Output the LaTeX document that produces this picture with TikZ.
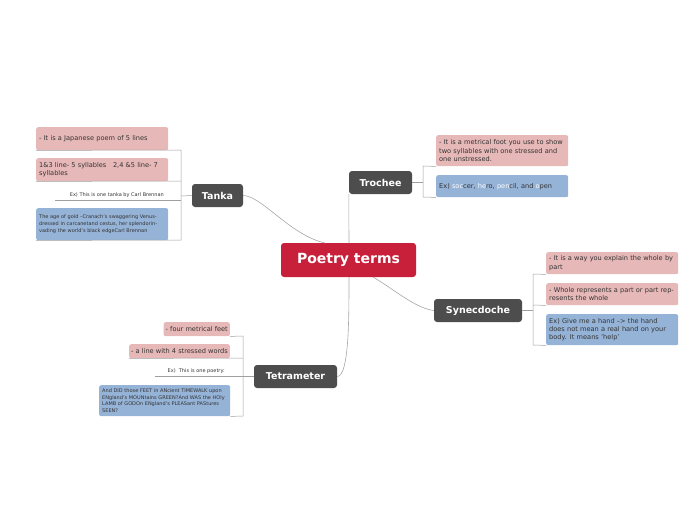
\documentclass[tikz,border=0pt]{standalone}
\usepackage{fontspec}
\setmainfont{DejaVu Sans}
\begin{document}
\begin{tikzpicture}[x=1pt,y=-1pt,
  pinkc/.style={fill=pinkf,rounded corners=2pt,inner sep=3pt,align=left,font=\fontsize{6.6}{8.2}\selectfont,text=black!80,anchor=north west},
  bluec/.style={fill=bluef,rounded corners=2pt,inner sep=3pt,align=left,font=\fontsize{6.6}{8.2}\selectfont,text=black!80,anchor=north west},
  topic/.style={fill=topicf,rounded corners=3pt,text=white,font=\bfseries\fontsize{9.5}{11}\selectfont,inner sep=0pt},
  lnk/.style={draw=gray!70,line width=0.6pt},
  brk/.style={draw=gray!75,line width=0.5pt},
  plain/.style={font=\fontsize{5}{6}\selectfont,inner sep=1pt,text=black!80}]
\definecolor{pinkf}{HTML}{E6B8B7}
\definecolor{bluef}{HTML}{95B3D7}
\definecolor{topicf}{HTML}{4D4D4D}
\definecolor{redf}{HTML}{C8203A}
\useasboundingbox (0,0) rectangle (697,520);
% central
\node[fill=redf,rounded corners=3pt,text=white,font=\bfseries\fontsize{14}{16}\selectfont,minimum width=135,minimum height=34] (c) at (348.5,260) {Poetry terms};
\node[topic,minimum width=51,minimum height=23] (tk) at (217.5,195.5) {Tanka};
\node[topic,minimum width=63,minimum height=23] (tr) at (380.5,182.5) {Trochee};
\node[topic,minimum width=88,minimum height=23] (sy) at (478,310.5) {Synecdoche};
\node[topic,minimum width=83,minimum height=23] (te) at (295.5,376.5) {Tetrameter};
% main links
\draw[lnk] (tk.east) .. controls (262,196) and (290,235) .. (325,243);
\draw[lnk] (tr.south west) ++(0,0) coordinate (trs) -- (349,243);
\draw[lnk] (373,277) .. controls (395,290) and (415,308) .. (sy.west);
\draw[lnk] (te.east) .. controls (349,376) and (349,320) .. (349,277);
% Tanka children
\node[pinkc,text width=126,minimum height=23] (t1) at (36,127) {- It is a Japanese poem of 5 lines};
\node[pinkc,text width=126,minimum height=23] (t2) at (36,158) {1\&3 line- 5 syllables\ \ \ 2,4 \&5 line- 7 syllables};
\node[plain,anchor=south east] (t3) at (165,199) {Ex) This is one tanka by Carl Brennan};
\node[bluec,text width=126,minimum height=32,font=\fontsize{5}{6.6}\selectfont] (t4) at (36,208) {The age of gold --Cranach's swaggering Venusdressed in carcanetand cestus, her splendorinvading the world's black edgeCarl Brennan};
\coordinate (tb) at (181,196);
\draw[brk] (t1.south west) -- (181,150) -- (181,240) -- (t4.south west);
\draw[brk] (t2.south west) -- (181,181);
\draw[brk] (55,200) -- (181,200);
\draw[brk] (tb) -- (tk.west);
% Trochee children
\node[pinkc,text width=126,minimum height=31] (r1) at (436,135) {- It is a metrical foot you use to show two syllables with one stressed and one unstressed.};
\node[bluec,text width=126,minimum height=22] (r2) at (436,175) {Ex) \textcolor{white}{soc}cer, \textcolor{white}{he}ro, \textcolor{white}{pen}cil, and \textcolor{white}{o}pen};
\draw[brk] (r1.south west) -- (423,166) -- (423,197) -- (r2.south west);
\draw[brk] (tr.east) -- (423,182.5);
% Synecdoche children
\node[pinkc,text width=126,minimum height=22] (s1) at (546,252) {- It is a way you explain the whole by part};
\node[pinkc,text width=126,minimum height=22] (s2) at (546,283) {- Whole represents a part or part represents the whole};
\node[bluec,text width=126,minimum height=31] (s3) at (546,314) {Ex) Give me a hand --> the hand does not mean a real hand on your body. It means 'help'};
\draw[brk] (s1.south west) -- (533,274) -- (533,345) -- (s3.south west);
\draw[brk] (s2.south west) -- (533,305);
\draw[brk] (sy.east) -- (533,310.5);
% Tetrameter children
\node[pinkc,minimum height=14,inner sep=2pt,anchor=north east] (e1) at (230,322) {- four metrical feet};
\node[pinkc,minimum height=14,inner sep=2pt,anchor=north east] (e2) at (230,344) {- a line with 4 stressed words};
\node[plain,anchor=south east] (e3) at (226,375) {Ex)\ \ This is one poetry:};
\node[bluec,text width=125,minimum height=31,font=\fontsize{5}{6.6}\selectfont] (e4) at (99,385) {And DID those FEET in ANcient TIMEWALK upon ENgland's MOUNtains GREEN?And WAS the HOly LAMB of GODOn ENgland's PLEASant PAStures SEEN?};
\draw[brk] (e1.south east) -- (243,336) -- (243,416) -- (e4.south east);
\draw[brk] (e2.south west) -- (243,358);
\draw[brk] (155,376) -- (243,376);
\draw[brk] (243,376.5) -- (te.west);
\end{tikzpicture}
\end{document}
